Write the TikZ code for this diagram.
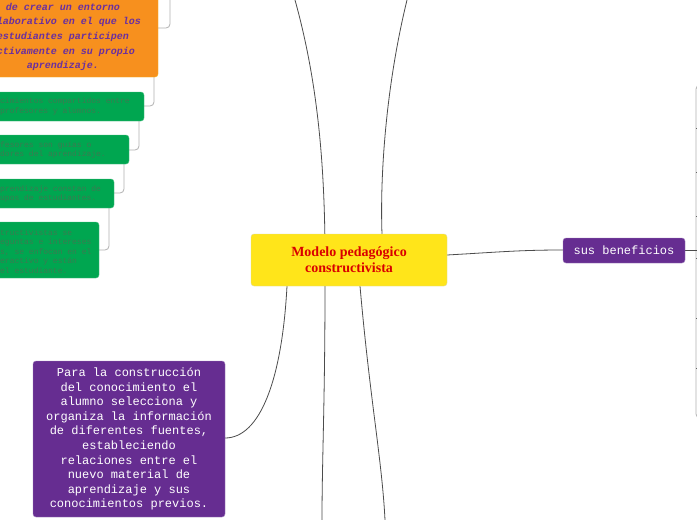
\documentclass[tikz,border=0pt]{standalone}
\usepackage{fontspec}
\setmainfont{Liberation Serif}
\newfontfamily\mono{Liberation Mono}
\definecolor{pur}{HTML}{662D91}
\definecolor{grn}{HTML}{00A650}
\definecolor{gtx}{HTML}{3D7A50}
\definecolor{org}{HTML}{F7901E}
\definecolor{ylw}{HTML}{FFE51A}
\definecolor{otx}{HTML}{6A2FA0}
\begin{document}
\begin{tikzpicture}[x=1pt,y=-1pt,
  conn/.style={draw=gray!60,line width=0.8pt,rounded corners=4pt},
  dconn/.style={draw=black!70,line width=0.8pt},
  gbox/.style={fill=grn,draw=grn!70!white,rounded corners=3pt},
  gtext/.style={anchor=north west,inner sep=0pt,align=left,font=\mono\fontsize{8}{9.5}\selectfont,text=gtx}]
\useasboundingbox[clip] (0,0) rectangle (697,520);
\fill[white] (0,0) rectangle (697,520);
% trunk lines
\draw[dconn] (295,0) .. controls (320,90) and (326,180) .. (325,286);
\draw[dconn] (325,286) .. controls (325,400) and (322,460) .. (322,520);
\draw[dconn] (407,0) .. controls (385,90) and (380,180) .. (382,234);
\draw[dconn] (360,286) .. controls (370,400) and (382,460) .. (385,520);
\coordinate (cL) at (287,286);
\draw[dconn] (cL) .. controls (282,380) and (260,438) .. (225,438);
\draw[dconn] (447,255) .. controls (500,252) and (520,250) .. (563,250);
% left elbows
\draw[conn] (170,0) |- (158,28);
\draw[conn] (154,77) |- (144,106);
\draw[conn] (139,121) |- (129,150);
\draw[conn] (124,164) |- (114,193);
\draw[conn] (109,208) |- (99,250);
% right bracket
\draw[conn] (703,85) -| (696,418) -- (703,418);
\foreach \y in {128,172,216,258,318,368}{\draw[draw=black!60,line width=0.7pt] (696,\y)--(703,\y);}
\draw[draw=black!70,line width=0.8pt] (685,250)--(697,250);
% orange box
\node[fill=org,draw=org!70!yellow,rounded corners=3pt,minimum width=190pt,minimum height=90pt] (or) at (63,32) {};
\node[inner sep=0pt,align=center,font=\mono\bfseries\itshape\fontsize{10}{14.6}\selectfont,text=otx] (ot) at (63,37) {de crear un entorno\\colaborativo en el que los\\estudiantes participen\\activamente en su propio\\aprendizaje.};
% green boxes
\node[gbox,minimum width=160pt,minimum height=29pt] (g1) at (64,106.5) {};
\node[gtext] (g1t) at (0,98) {cimientos compartidos entre\\ profesores y alumnos.};
\node[gbox,minimum width=160pt,minimum height=29pt] (g2) at (49,149.5) {};
\node[gtext] (g2t) at (0,141) {fesores son guías o\\dores del aprendizaje.};
\node[gbox,minimum width=160pt,minimum height=29pt] (g3) at (34,193.5) {};
\node[gtext] (g3t) at (0,185) {prendizaje constan de\\upos de estudiantes.};
\node[gbox,minimum width=160pt,minimum height=56pt] (g4) at (19,250) {};
\node[gtext] (g4t) at (0,229) {tructivistas se\\eguntas e intereses\\s, se enfocan en el\\eractivo y están\\el estudiante.};
% center
\node[fill=ylw,draw=yellow!50!gray!60,rounded corners=3pt,minimum width=196pt,minimum height=52pt,align=center,font=\bfseries\fontsize{14}{16}\selectfont,text=red!85!black] (c) at (349,260) {Modelo pedagógico\\constructivista};
% purple
\node[fill=pur,draw=pur!60!white,rounded corners=3pt,minimum width=192pt,minimum height=156pt,align=center,font=\mono\fontsize{12}{14.6}\selectfont,text=white] (p) at (129,439) {Para la construcción\\del conocimiento el\\alumno selecciona y\\organiza la información\\de diferentes fuentes,\\estableciendo\\relaciones entre el\\nuevo material de\\aprendizaje y sus\\conocimientos previos.};
\node[fill=pur,draw=pur!60!white,rounded corners=3pt,minimum width=122pt,minimum height=25pt,font=\mono\fontsize{12}{13}\selectfont,text=white] (b) at (624,250.5) {sus beneficios};
\end{tikzpicture}
\end{document}
